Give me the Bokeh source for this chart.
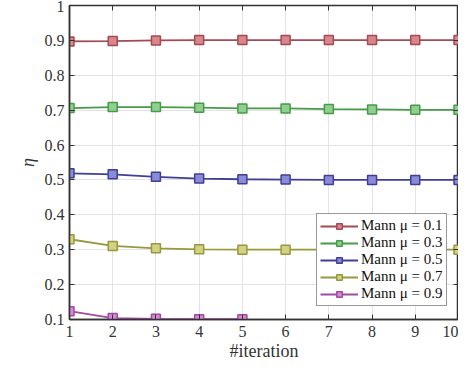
from bokeh.plotting import figure
from bokeh.models import LinearAxis, FixedTicker, PrintfTickFormatter, Legend, CustomJSTickFormatter
from bokeh.embed import file_html
from bokeh.resources import INLINE

iterations = [1, 2, 3, 4, 5, 6, 7, 8, 9, 10]
iter_short = [1, 2, 3, 4, 5]
eta_mu01 = [0.897, 0.898, 0.900, 0.901, 0.901, 0.901, 0.901, 0.901, 0.901, 0.901]
eta_mu03 = [0.706, 0.709, 0.709, 0.707, 0.705, 0.705, 0.703, 0.702, 0.701, 0.701]
eta_mu05 = [0.519, 0.516, 0.509, 0.504, 0.502, 0.501, 0.500, 0.500, 0.500, 0.500]
eta_mu07 = [0.330, 0.311, 0.304, 0.301, 0.300, 0.300, 0.300, 0.300, 0.300, 0.300]
eta_mu09 = [0.124, 0.104, 0.102, 0.101, 0.101]
labels = ["Mann \u03bc = 0.1", "Mann \u03bc = 0.3", "Mann \u03bc = 0.5",
          "Mann \u03bc = 0.7", "Mann \u03bc = 0.9"]
x_ticks = [1, 2, 3, 4, 5, 6, 7, 8, 9, 10]
y_ticks = [0.1, 0.2, 0.3, 0.4, 0.5, 0.6, 0.7, 0.8, 0.9, 1.0]

line_colors = ["#a34a52", "#479a47", "#3f3f98", "#98983f", "#a04aa0"]
fill_colors = ["#d9868c", "#8fcf8f", "#8a8ad6", "#d2d283", "#d68ad6"]

FONT = "Liberation Serif"

p = figure(width=458, height=371, x_range=(1, 10), y_range=(0.1, 1),
           output_backend="svg", toolbar_location=None,
           min_border_left=69, min_border_right=0, min_border_top=5,
           min_border_bottom=52)
p.background_fill_color = "white"
p.border_fill_color = "white"
p.outline_line_color = "#333333"
p.outline_line_width = 1.5

for ax in (p.xaxis[0], p.yaxis[0]):
    ax.axis_line_color = "#333333"
    ax.axis_line_width = 1.5
    ax.major_tick_in = 5
    ax.major_tick_out = 0
    ax.minor_tick_line_color = None
    ax.major_tick_line_color = "#333333"
    ax.major_label_text_font = FONT
    ax.major_label_text_font_size = "16px"
    ax.major_label_text_color = "#333333"
    ax.axis_label_text_font = FONT
    ax.axis_label_text_font_size = "18px"
    ax.axis_label_text_font_style = "normal"
    ax.axis_label_text_color = "#333333"

p.xaxis[0].ticker = FixedTicker(ticks=x_ticks)
p.yaxis[0].ticker = FixedTicker(ticks=y_ticks)
p.yaxis[0].formatter = PrintfTickFormatter(format="%g")
p.xaxis[0].axis_label = "#iteration"
p.yaxis[0].axis_label = "\u03b7"
p.yaxis[0].axis_label_text_font_style = "italic"
p.xaxis[0].major_label_standoff = 6
p.xaxis[0].axis_label_standoff = 1
p.yaxis[0].major_label_standoff = 5
p.yaxis[0].axis_label_standoff = 4

blank = CustomJSTickFormatter(code="return '';")
right = LinearAxis(ticker=FixedTicker(ticks=y_ticks), formatter=blank,
                   major_label_standoff=0, major_tick_in=5, major_tick_out=0,
                   minor_tick_line_color=None, axis_line_color="#333333",
                   major_tick_line_color="#333333")
top = LinearAxis(ticker=FixedTicker(ticks=x_ticks), formatter=blank,
                 major_label_standoff=0, major_tick_in=5, major_tick_out=0,
                 minor_tick_line_color=None, axis_line_color="#333333",
                 major_tick_line_color="#333333")
p.add_layout(right, "right")
p.add_layout(top, "above")

p.xgrid.ticker = FixedTicker(ticks=x_ticks)
p.ygrid.ticker = FixedTicker(ticks=y_ticks)
p.xgrid.grid_line_color = "#e3e3e3"
p.ygrid.grid_line_color = "#e3e3e3"
p.xgrid.grid_line_width = 1
p.ygrid.grid_line_width = 1

series = [(iterations, eta_mu01), (iterations, eta_mu03), (iterations, eta_mu05),
          (iterations, eta_mu07), (iter_short, eta_mu09)]
items = []
for (xs, ys), lab, lc, fc in zip(series, labels, line_colors, fill_colors):
    l = p.line(xs, ys, line_color=lc, line_width=1.8)
    s = p.scatter(xs, ys, marker="square", size=9, line_color=lc, fill_color=fc,
                  line_width=1.5)
    items.append((lab, [l, s]))

legend = Legend(items=items, location=(247, 13))
legend.label_text_font = FONT
legend.label_text_font_size = "15px"
legend.label_text_color = "#111111"
legend.glyph_width = 38
legend.glyph_height = 14
legend.label_height = 14
legend.label_standoff = 3
legend.spacing = 0
legend.padding = 3
legend.margin = 0
legend.border_line_color = "#333333"
legend.border_line_width = 1.2
legend.background_fill_alpha = 1
p.add_layout(legend, "center")

open("out.html", "w").write(file_html(p, INLINE))
